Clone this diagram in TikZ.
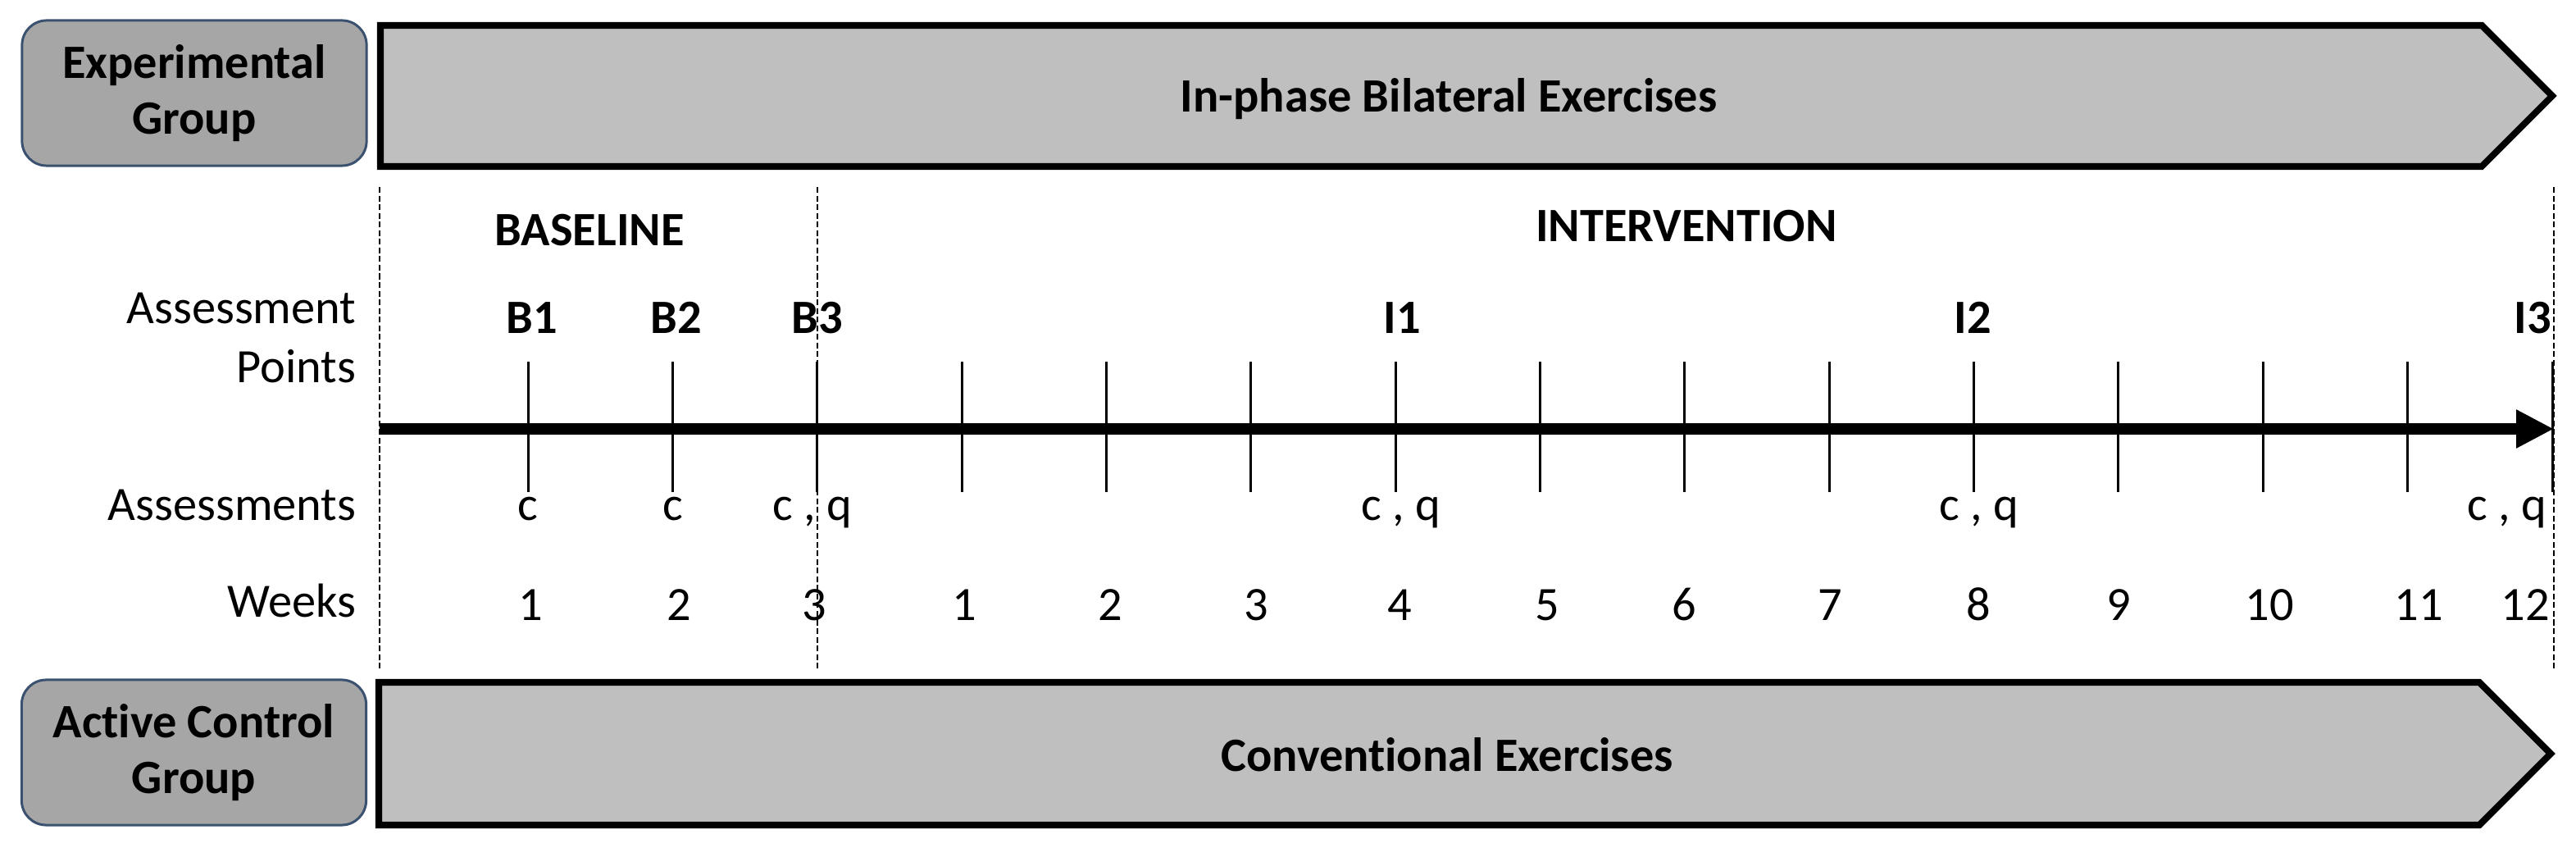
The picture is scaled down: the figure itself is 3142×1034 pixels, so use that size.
\documentclass[tikz,border=0pt]{standalone}
\usepackage{fontspec}
\setmainfont{Carlito}[Ligatures=NoCommon]
\usetikzlibrary{arrows.meta}
\definecolor{bargray}{HTML}{BFBFBF}
\definecolor{grpgray}{HTML}{A6A6A6}
\definecolor{grpline}{HTML}{3B5170}
\newcommand{\txtsize}{\fontsize{16.6pt}{19.4pt}\selectfont}

\begin{document}
\begin{tikzpicture}[x=.01cm,y=-.01cm,>={Triangle[length=.46cm,width=.44cm]},
    grp/.style={draw=grpline,line width=.85pt,fill=grpgray,rounded corners=.3cm,
      minimum width=4.2cm,minimum height=1.77cm,align=center,font=\txtsize\bfseries,inner sep=0pt},
    bar/.style={draw=black,line width=2.3pt,fill=bargray},
    lbl/.style={font=\txtsize,inner sep=0pt},
    blbl/.style={font=\txtsize\bfseries,inner sep=0pt},
    tickmark/.style={line width=.85pt},
    phaseline/.style={line width=.8pt,dash pattern=on 2pt off 1pt}]
        % background
        \useasboundingbox (0,0) rectangle (3142,1034);
        % bars
        \draw[bar] (464,31) -- (3027,31) -- (3113,117) -- (3027,203) -- (464,203) -- cycle;
        \draw[bar] (462,832) -- (3024,832) -- (3111,919) -- (3024,1006) -- (462,1006) -- cycle;
        \node[blbl,anchor=base] (inphase) at (1767,137) {In-phase Bilateral Exercises};
        \node[blbl,anchor=base] (conv) at (1765,940) {Conventional Exercises};
        % groups
        \node[grp] (expgrp) at (237,113.5) {Experimental\\Group};
        \node[grp] (ctlgrp) at (236.5,917.5) {Active Control\\Group};
        % phases
        \node[blbl,anchor=base] (baseline) at (719,300) {BASELINE};
        \node[blbl,anchor=base] (interv) at (2057,295) {INTERVENTION};
        % row labels
        \node[lbl,anchor=base east] (apts1) at (435,395) {Assessment};
        \node[lbl,anchor=base east] (apts2) at (435,467) {Points};
        \node[lbl,anchor=base east] (assess) at (435,635) {Assessments};
        \node[lbl,anchor=base east] (weeks) at (435,752) {Weeks};
        % phase borders
        \foreach \n/\x in {a/463,b/997,c/3115} {
          \coordinate (top\n) at (\x,228);
          \coordinate (bot\n) at (\x,815);
          \draw[phaseline] (top\n) -- (bot\n);
        }
        % time axis
        \coordinate (axstart) at (463,523);
        \coordinate (axend) at (3115,523);
        \draw[->,line width=3.7pt] (axstart) -- (axend);
        \foreach \k in {0,...,14} {
          \coordinate (tu\k) at ({644+176.36*\k},441);
          \coordinate (td\k) at ({644+176.36*\k},600);
          \draw[tickmark] (tu\k) -- (td\k);
        }
        % assessment points
        \foreach \n/\x in {B1/649,B2/825,B3/997,I1/1710,I2/2406,I3/3089}
          \node[blbl,anchor=base] (pt\n) at (\x,407) {\n};
        % assessments
        \foreach \n/\x/\t in {1/644/c,2/821/c,3/991/{c , q},4/1709/{c , q},5/2414/{c , q},6/3058/{c , q}}
          \node[lbl,anchor=base] (as\n) at (\x,635) {\t};
        % weeks
        \foreach \n/\x in {1/647,2/828,3/993}
          \node[lbl,anchor=base] (bw\n) at (\x,757) {\n};
        \foreach \n/\x in {1/1176,2/1354,3/1532,4/1707,5/1887,6/2054,7/2232,8/2413,9/2584,10/2768,11/2950,12/3080}
          \node[lbl,anchor=base] (iw\n) at (\x,757) {\n};
\end{tikzpicture}
\end{document}
